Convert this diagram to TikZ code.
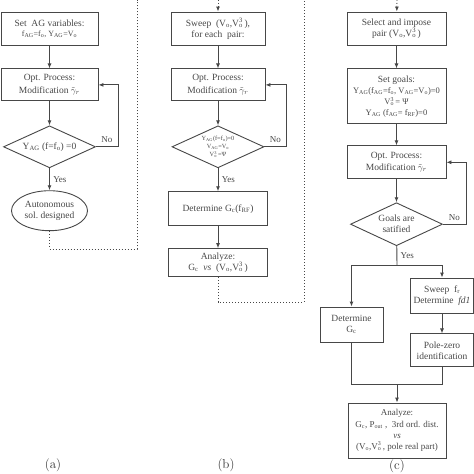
\documentclass[tikz,border=0pt]{standalone}
\usepackage{fontspec}
\setmainfont{Liberation Serif}
\newfontfamily\capfont{Latin Modern Roman}
\usetikzlibrary{shapes, arrows.meta, positioning, calc}
\colorlet{ink}{black!72}

\newcommand{\Vo}{V\textsubscript{o}}
\newcommand{\Vt}{V\rlap{\textsubscript{o}}\textsuperscript{3}\,}
\newcommand{\YAG}{Y\textsubscript{AG}}
\newcommand{\gammar}{$\tilde{\gamma}_r$}

\begin{document}
\begin{tikzpicture}[x=1pt, y=-1pt, node distance=23pt,
    block/.style={rectangle, draw=ink, line width=0.9pt, text=ink, align=center, minimum width=97pt, minimum height=33pt, inner sep=2pt, font=\fontsize{9.5}{11}\selectfont},
    decision/.style={diamond, draw=ink, line width=0.9pt, text=ink, align=center, aspect=2.2, minimum width=92pt, minimum height=42pt, inner sep=0pt, font=\fontsize{9.5}{11}\selectfont},
    terminal/.style={ellipse, draw=ink, line width=0.9pt, text=ink, align=center, minimum width=76pt, minimum height=40pt, inner sep=0pt, font=\fontsize{9.5}{11}\selectfont},
    arrow/.style={draw=ink, line width=0.9pt, -{Latex[length=5pt, width=4pt]}},
    link/.style={draw=ink, line width=0.9pt},
    dotline/.style={draw=ink, line width=1pt, dotted},
    tag/.style={text=ink, font=\fontsize{9}{10}\selectfont},
    caption/.style={text=black!80, font=\capfont\fontsize{13}{15}\selectfont}]

    \useasboundingbox (0,0) rectangle (474,474);

    % (a)
    \node [block] (a1) at (49.5,28.5) {Set\ \ AG variables:\\[-1pt] {\footnotesize f\textsubscript{AG}=f\textsubscript{o}, \YAG=\Vo}};
    \node [block, below=of a1, minimum height=32pt] (a2) {Opt. Process:\\[1.5pt] Modification \gammar};
    \node [decision, below=24pt of a2] (a3) {\YAG{} (f=f\textsubscript{o}) =0};
    \node [terminal, below=22pt of a3] (a4) {Autonomous\\ sol.\ designed};
    \coordinate (da) at (137,249);
    \coordinate (da0) at (137,0);

    \draw [arrow] (a1) -- (a2);
    \draw [arrow] (a2) -- (a3);
    \draw [arrow] (a3.east) -- node[tag, above]{No} ++(22,0) |- (a2.east);
    \draw [arrow] (a3) -- node[tag, right]{Yes} (a4);
    \draw [dotline] (a4.south) |- (da) -- (da0);

    % (b)
    \node [block, minimum width=94pt] (b1) at (218,28.5) {Sweep\ \ (\Vo,\Vt),\\ for each\ \ pair:};
    \node [block, below=of b1, minimum width=94pt, minimum height=32pt] (b2) {Opt. Process:\\[1.5pt] Modification \gammar};
    \node [decision, below=24pt of b2, font=\fontsize{6.3}{8.2}\selectfont, aspect=2] (b3) {\YAG(f=f\textsubscript{o})=0\\ V\textsubscript{AG}=\Vo\\ \Vt=Ψ};
    \node [block, below=of b3, minimum width=99pt, minimum height=34pt] (b4) {Determine G\textsubscript{c}(f\textsubscript{RF})};
    \node [block, below=22pt of b4, minimum width=99pt, minimum height=28pt] (b5) {Analyze:\\ G\textsubscript{c}\ \ \textit{vs}\ \ (\Vo,\Vt)};
    \coordinate (db0) at (218,0);
    \coordinate (db) at (304,302);
    \coordinate (db1) at (304,0);

    \draw [arrow, dotted] (db0) -- (b1);
    \draw [arrow] (b1) -- (b2);
    \draw [arrow] (b2) -- (b3);
    \draw [arrow] (b3.east) -- node[tag, above]{No} ++(22,0) |- (b2.east);
    \draw [arrow] (b3) -- node[tag, right]{Yes} (b4);
    \draw [arrow] (b4) -- (b5);
    \draw [dotline] (b5.south) |- (db) -- (db1);

    % (c)
    \node [block, minimum width=99pt] (c1) at (396.5,28.5) {Select\ and\ impose\\ pair (\Vo,\Vt)};
    \node [block, below=of c1, minimum width=99pt, minimum height=55pt, font=\fontsize{8.5}{11}\selectfont] (c2) {{\fontsize{9.5}{11}\selectfont Set\ goals:}\\ \YAG(f\textsubscript{AG}=f\textsubscript{o}, V\textsubscript{AG}=\Vo)=0\\ \Vt= Ψ\\ \YAG{} (f\textsubscript{AG}= f\textsubscript{RF})=0};
    \node [block, below=21pt of c2, minimum width=99pt] (c3) {Opt. Process:\\[1.5pt] Modification \gammar};
    \node [decision, below=of c3, minimum height=43pt] (c4) {Goals are\\ satified};
    \node [block, minimum width=63pt, minimum height=35pt] (c5) at (351.5,324.5) {Determine\\ G\textsubscript{c}};
    \node [block, minimum width=63pt, minimum height=35pt] (c6) at (442,295.5) {Sweep\ \ f\textsubscript{r}\\ Determine\ \ \textit{fd1}};
    \node [block, below=20pt of c6, minimum width=63pt] (c7) {Pole-zero\\ identification};
    \node [block, minimum width=98pt, minimum height=55pt, font=\fontsize{9}{11.3}\selectfont] (c8) at (397,430.5) {Analyze:\\ G\textsubscript{c}, P\textsubscript{out} ,\ \ 3rd ord. dist.\\ \textit{vs}\\ (\Vo,\Vt, pole real part)};
    \coordinate (dc0) at (397,0);
    \coordinate (split) at (397,265);
    \coordinate (merge) at (397,384);

    \draw [arrow, dotted] (dc0) -- (c1);
    \draw [arrow] (c1) -- (c2);
    \draw [arrow] (c2) -- (c3);
    \draw [arrow] (c3) -- (c4);
    \draw [arrow] (c4.east) -- node[tag, above]{No} ++(23,0) |- (c3.east);
    \draw [link] (c4) -- node[tag, right]{Yes} (split);
    \draw [arrow] (split) -| (c5);
    \draw [arrow] (split) -| (c6);
    \draw [arrow] (c6) -- (c7);
    \draw [link] (c5) |- (merge);
    \draw [link] (c7) |- (merge);
    \draw [arrow] (merge) -- (c8);

    % captions
    \node [caption] (capa) at (53,465) {(a)};
    \node [caption] (capb) at (226,465) {(b)};
    \node [caption] (capc) at (397,466) {(c)};
\end{tikzpicture}
\end{document}
